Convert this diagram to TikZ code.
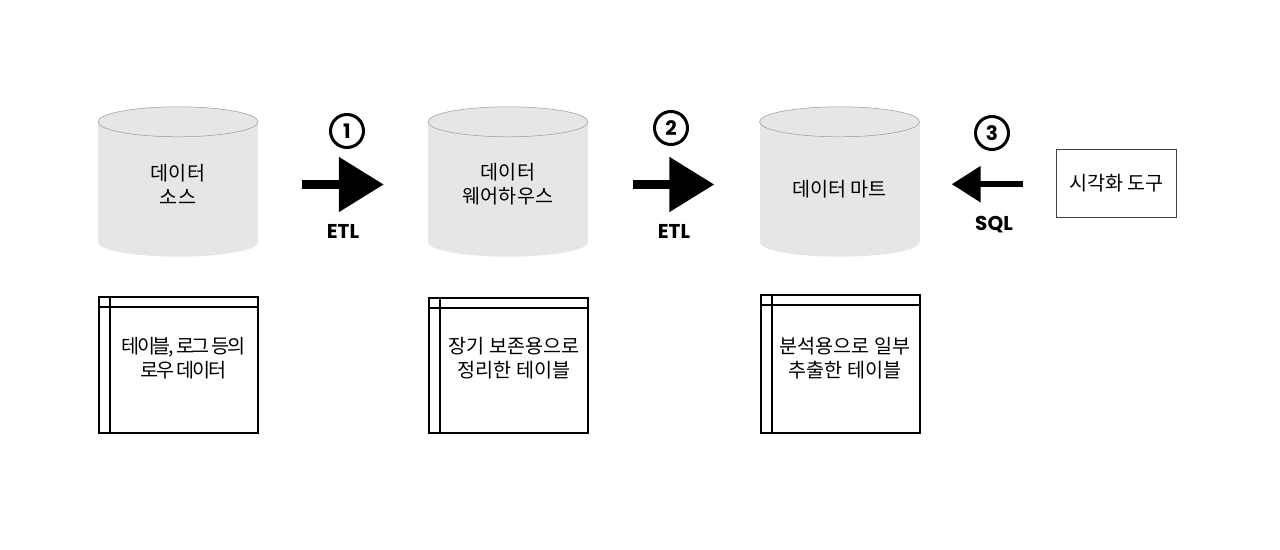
\documentclass[tikz,border=0pt]{standalone}
\usepackage{fontspec}
\setmainfont{Noto Sans CJK KR}
\newfontfamily\stepfont{Poppins}
\usetikzlibrary{arrows.meta}
\definecolor{dbgray}{HTML}{E6E6E6}
\tikzset{
  every node/.style={font=\fontsize{19.6}{24}\selectfont,align=center,inner sep=0pt},
  dbnode/.style={rectangle,fill=dbgray,minimum width=160pt,minimum height=120pt},
  dbtop/.style={draw=black!40,fill=dbgray,line width=0.5pt},
  dbbottom/.style={fill=dbgray},
  tablenode/.style={draw=black,line width=2pt,rectangle,minimum width=159pt},
  tableline/.style={draw=black,line width=2pt},
  tighttext/.style={font=\fontsize{19.6}{24}\selectfont\addfontfeature{LetterSpace=-12}},
  stepnum/.style={draw=black,circle,line width=3pt,minimum size=33pt,font=\stepfont\fontsize{20}{20}\selectfont\bfseries},
  steplabel/.style={font=\stepfont\fontsize{20}{20}\selectfont\bfseries},
  etlarrow/.style={draw=black,line width=8.5pt,-{Triangle[length=45pt,width=53pt]}},
  sqlarrow/.style={draw=black,line width=6pt,-{Triangle[length=29pt,width=35pt]}},
}
\begin{document}
\begin{tikzpicture}[x=1pt,y=1pt]
      \useasboundingbox (0,0) rectangle (1280,549);
      \node[dbnode] (source) at (178,367) {};
      \node[dbnode] (warehouse) at (508,367) {};
      \node[dbnode] (mart) at (839.5,367) {};
      \path[dbbottom] (source.south) ellipse (80pt and 14.5pt);
      \path[dbbottom] (warehouse.south) ellipse (80pt and 14.5pt);
      \path[dbbottom] (mart.south) ellipse (80pt and 14.5pt);
      \draw[dbtop] (source.north) ellipse (80pt and 15pt);
      \draw[dbtop] (warehouse.north) ellipse (80pt and 15pt);
      \draw[dbtop] (mart.north) ellipse (80pt and 15pt);
      \node (sourcetext) at (178,365) {데이터\\소스};
      \node (warehousetext) at (508,365) {데이터\\웨어하우스};
      \node (marttext) at (839.5,360) {데이터 마트};
      \node[draw=black!75,line width=1pt,minimum width=120pt,minimum height=68pt] (tool) at (1116.3,365.5) {시각화 도구};
      \draw[etlarrow,shorten <=44pt,shorten >=44pt] ([yshift=-2.5pt]source.east) to ([yshift=-2.5pt]warehouse.west);
      \draw[etlarrow,shorten <=45pt,shorten >=45pt] ([yshift=-2.5pt]warehouse.east) to ([yshift=-2.5pt]mart.west);
      \draw[sqlarrow,shorten <=33pt,shorten >=32pt] ([yshift=-0.7pt]tool.west) to ([yshift=-0.7pt]tool.west -| mart.east);
      \node[stepnum] (numa) at (347,418) {1};
      \node[stepnum] (numb) at (671,421) {2};
      \node[stepnum] (numc) at (992,416) {3};
      \node[steplabel] (etla) at (343,318) {ETL};
      \node[steplabel] (etlb) at (674,318) {ETL};
      \node[steplabel] (sql) at (994,324) {SQL};
      \node[tablenode,minimum height=136pt] (sourcetable) at (178,184) {};
      \node[tablenode,minimum height=135pt] (warehousetable) at (508,183.5) {};
      \node[tablenode,minimum height=138pt] (marttable) at (840,185) {};
      \draw[tableline] ([xshift=12pt]sourcetable.north west) to ([xshift=12pt]sourcetable.south west);
      \draw[tableline] ([yshift=-11.3pt]sourcetable.north west) to ([yshift=-11.3pt]sourcetable.north east);
      \draw[tableline] ([xshift=12pt]warehousetable.north west) to ([xshift=12pt]warehousetable.south west);
      \draw[tableline] ([yshift=-11.3pt]warehousetable.north west) to ([yshift=-11.3pt]warehousetable.north east);
      \draw[tableline] ([xshift=12pt]marttable.north west) to ([xshift=12pt]marttable.south west);
      \draw[tableline] ([yshift=-11.3pt]marttable.north west) to ([yshift=-11.3pt]marttable.north east);
      \node[tighttext] (sourcecell) at (183.5,191) {테이블, 로그 등의\\로우 데이터};
      \node (warehousecell) at (514,191) {장기 보존용으로\\정리한 테이블};
      \node (martcell) at (845,191) {분석용으로 일부\\추출한 테이블};
    \end{tikzpicture}
\end{document}
